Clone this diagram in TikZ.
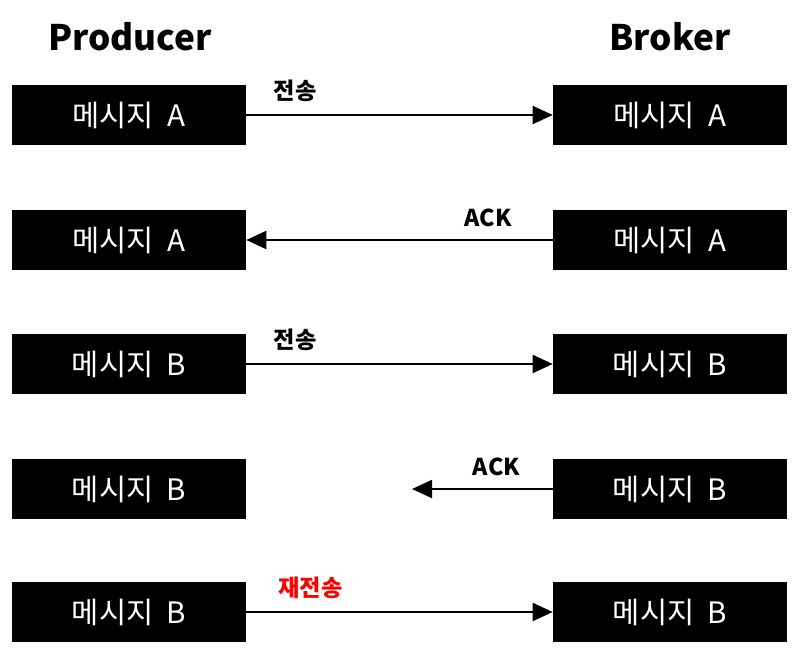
\documentclass[tikz,border=0pt]{standalone}
\usepackage{fontspec}
\setmainfont{Noto Sans CJK KR}
\usetikzlibrary{arrows.meta}
\tikzset{
  msg/.style={fill=black, text=white, minimum width=5.85cm, minimum height=1.5cm, inner sep=0pt, font=\fontsize{21}{22}\selectfont},
  side/.style={font=\bfseries\fontsize{25}{27}\selectfont},
  send/.style={line width=1.3pt, -{Triangle[length=0.5cm, width=0.45cm]}},
  tag/.style={font=\bfseries\fontsize{16.5}{18}\selectfont, above=0.2cm}
}
\begin{document}
\begin{tikzpicture}
\useasboundingbox (0,0) rectangle (20,-16.2);
\node[side] (prod) at (3.25,-0.925) {Producer};
\node[side] (brok) at (16.75,-0.925) {Broker};
\foreach \i/\y/\m in {1/-2.875/A, 2/-6.0/A, 3/-9.1/B, 4/-12.225/B, 5/-15.3/B}{
  \node[msg] (p\i) at (3.225,\y) {메시지\hspace{0.45em}\m};
  \node[msg] (b\i) at (16.75,\y) {메시지\hspace{0.45em}\m};
}
\draw[send] (p1) -- node[tag, pos=0.16] {전송} (b1);
\draw[send] (b2) -- node[tag, pos=0.21] {ACK} (p2);
\draw[send] (p3) -- node[tag, pos=0.16] {전송} (b3);
% ACK lost on the way back
\coordinate (lost) at (10.3,-12.225);
\draw[send] (b4) -- node[tag, pos=0.4] {ACK} (lost);
\draw[send] (p5) -- node[tag, pos=0.21, text=red] {재전송} (b5);
\end{tikzpicture}
\end{document}
